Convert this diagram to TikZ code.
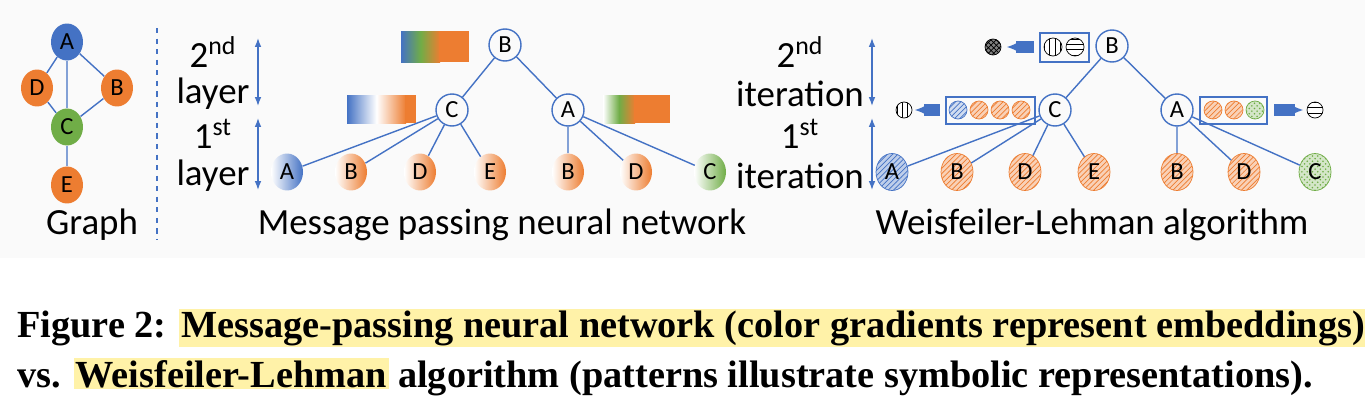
\documentclass[tikz,border=0pt]{standalone}
\usepackage{fontspec}
\setmainfont{Carlito}
\newfontfamily\capfont{Liberation Serif}
\usetikzlibrary{shapes.geometric,patterns,arrows.meta}
\definecolor{og}{HTML}{ED7D31}
\definecolor{bl}{HTML}{4472C4}
\definecolor{gn}{HTML}{70AD47}
\definecolor{hl}{HTML}{FFF2A8}
\begin{document}
\begin{tikzpicture}[x=0.02cm,y=-0.02cm,
  nd/.style={circle,draw=bl,thick,minimum size=0.64cm,inner sep=0pt,font=\fontsize{14}{14}\selectfont},
  lf/.style={ellipse,minimum width=0.64cm,minimum height=0.74cm,inner sep=0pt,font=\fontsize{14}{14}\selectfont},
  gl/.style={lf,left color=white,right color=og,shading angle=90},
  hat/.style={lf,draw=#1,preaction={fill=#1!35},pattern=north east lines,pattern color=#1},
  dots/.style={lf,draw=gn,preaction={fill=gn!30},pattern=crosshatch dots,pattern color=gn},
  sm/.style={circle,minimum size=0.36cm,inner sep=0pt},
  edge/.style={bl,thick},
  lbl/.style={font=\fontsize{21}{21}\selectfont},
  big/.style={-{Latex[length=6pt]},bl,line width=7pt},
  captxt/.style={anchor=west,font=\capfont\bfseries\fontsize{21.8}{24}\selectfont,inner sep=0pt}]
\useasboundingbox (0,0) rectangle (1365,409);
\fill[gray!4] (0,0) rectangle (1365,258);
% Graph
\node[lf,fill=bl,text=black] (gA) at (67,42) {A};
\node[lf,fill=og] (gD) at (37,88) {D};
\node[lf,fill=og] (gB) at (117,88) {B};
\node[lf,fill=gn] (gC) at (67,127) {C};
\node[lf,fill=og] (gE) at (67,185) {E};
\draw[edge] (gA)--(gD) (gA)--(gB) (gA)--(gC) (gD)--(gC) (gB)--(gC) (gC)--(gE);
\node[lbl] (tg) at (92,225) {Graph};
\coordinate (d1) at (157,28); \coordinate (d2) at (157,240);
\draw[bl,dashed,thick] (d1)--(d2);
% layer labels
\node[lbl] (l2) at (213,52) {2\textsuperscript{nd}};
\node[lbl] (l2b) at (213,94) {layer};
\node[lbl] (l1) at (213,134) {1\textsuperscript{st}};
\node[lbl] (l1b) at (213,176) {layer};
\coordinate (a1) at (258,38); \coordinate (a2) at (258,106);
\coordinate (a3) at (258,118); \coordinate (a4) at (258,190);
\draw[bl,thick,{Latex[length=5pt]}-{Latex[length=5pt]}] (a1)--(a2);
\draw[bl,thick,{Latex[length=5pt]}-{Latex[length=5pt]}] (a3)--(a4);
% MPNN tree
\node[nd] (mB) at (505,45) {B};
\node[nd] (mC) at (452,110) {C};
\node[nd] (mA) at (568,110) {A};
\node[lf,left color=white,right color=bl,shading angle=90,text=black] (m1) at (287,172) {A};
\node[gl] (m2) at (351,172) {B};
\node[gl] (m3) at (420,172) {D};
\node[gl] (m4) at (490,172) {E};
\node[gl] (m5) at (568,172) {B};
\node[gl] (m6) at (636,172) {D};
\node[lf,left color=white,right color=gn,shading angle=90] (m7) at (710,172) {C};
\draw[edge] (mB)--(mC) (mB)--(mA) (mC)--(m1) (mC)--(m2) (mC)--(m3) (mC)--(m4) (mA)--(m5) (mA)--(m6) (mA)--(m7);
% gradient bars
\shade[left color=bl,right color=og,middle color=gn] (401,31) rectangle (440,62);
\fill[og] (439,31) rectangle (469,62);
\shade[left color=bl,right color=og,middle color=white] (347,95) rectangle (406,123);
\fill[og] (405,95) rectangle (416,123);
\shade[left color=white,right color=og,middle color=gn] (603,95) rectangle (635,123);
\fill[og] (634,95) rectangle (670,123);
\node[lbl] (tm) at (502,225) {Message passing neural network};
% WL labels
\node[lbl] (w2) at (800,52) {2\textsuperscript{nd}};
\node[lbl] (w2b) at (800,94) {iteration};
\node[lbl] (w1) at (800,134) {1\textsuperscript{st}};
\node[lbl] (w1b) at (800,176) {iteration};
\coordinate (b1) at (872,38); \coordinate (b2) at (872,106);
\coordinate (b3) at (872,118); \coordinate (b4) at (872,190);
\draw[bl,thick,{Latex[length=5pt]}-{Latex[length=5pt]}] (b1)--(b2);
\draw[bl,thick,{Latex[length=5pt]}-{Latex[length=5pt]}] (b3)--(b4);
% WL tree
\node[nd] (wB) at (1112,46) {B};
\node[nd] (wC) at (1055,110) {C};
\node[nd] (wA) at (1177,110) {A};
\node[hat=bl] (w1n) at (892,172) {A};
\node[hat=og] (w2n) at (957,172) {B};
\node[hat=og] (w3n) at (1025,172) {D};
\node[hat=og] (w4n) at (1094,172) {E};
\node[hat=og] (w5n) at (1177,172) {B};
\node[hat=og] (w6n) at (1244,172) {D};
\node[dots] (w7n) at (1315,172) {C};
\draw[edge] (wB)--(wC) (wB)--(wA) (wC)--(w1n) (wC)--(w2n) (wC)--(w3n) (wC)--(w4n) (wA)--(w5n) (wA)--(w6n) (wA)--(w7n);
% boxes
\draw[bl,thick] (1040,33) rectangle (1089,62);
\node[sm,draw=black,preaction={fill=white},pattern=vertical lines] (s1) at (1053,47) {};
\node[sm,draw=black,preaction={fill=white},pattern=horizontal lines] (s2) at (1075,47) {};
\node[sm,minimum size=0.32cm,draw=black,preaction={fill=gray},pattern=crosshatch] (r1) at (993,47) {};
\coordinate (t1) at (1034,47); \coordinate (t1e) at (1006,47);
\draw[big] (t1)--(t1e);
\draw[bl,thick] (946,97) rectangle (1035,124);
\node[sm,draw=bl,preaction={fill=bl!25},pattern=north east lines,pattern color=bl] (c1) at (958,110) {};
\node[sm,draw=og,preaction={fill=og!35},pattern=north east lines,pattern color=og] (c2) at (979,110) {};
\node[sm,draw=og,preaction={fill=og!35},pattern=north east lines,pattern color=og] (c3) at (1000,110) {};
\node[sm,draw=og,preaction={fill=og!35},pattern=north east lines,pattern color=og] (c4) at (1021,110) {};
\node[sm,minimum size=0.32cm,draw=black,preaction={fill=white},pattern=vertical lines] (r2) at (904,110) {};
\coordinate (t2) at (940,110); \coordinate (t2e) at (914,110);
\draw[big] (t2)--(t2e);
\draw[bl,thick] (1200,97) rectangle (1267,124);
\node[sm,draw=og,preaction={fill=og!35},pattern=north east lines,pattern color=og] (e1) at (1213,110) {};
\node[sm,draw=og,preaction={fill=og!35},pattern=north east lines,pattern color=og] (e2) at (1234,110) {};
\node[sm,draw=gn,preaction={fill=gn!30},pattern=crosshatch dots,pattern color=gn] (e3) at (1255,110) {};
\node[sm,minimum size=0.32cm,draw=black,preaction={fill=white},pattern=horizontal lines] (r3) at (1315,110) {};
\coordinate (t3) at (1274,110); \coordinate (t3e) at (1304,110);
\draw[big] (t3)--(t3e);
\node[lbl] (tw) at (1092,225) {Weisfeiler-Lehman algorithm};
% caption
\node[captxt] (c1t) at (17,328) {Figure 2: {\setlength{\fboxsep}{1pt}\colorbox{hl}{Message-passing neural network (color gradients represent embeddings)}}};
\node[captxt] (c2t) at (17,377) {vs. {\setlength{\fboxsep}{1pt}\colorbox{hl}{Weisfeiler-Lehman}} algorithm (patterns illustrate symbolic representations).};
\end{tikzpicture}
\end{document}
